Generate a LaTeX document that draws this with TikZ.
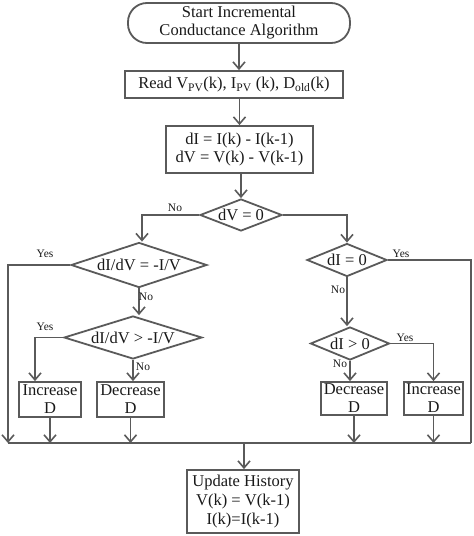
\documentclass[tikz,border=0pt]{standalone}
\usepackage{fontspec}
\setmainfont{Liberation Serif}
\usetikzlibrary{shapes.geometric,arrows.meta}
\definecolor{lc}{RGB}{90,90,90}
\definecolor{tc}{RGB}{25,25,25}
\begin{document}
\begin{tikzpicture}[x=1pt,y=-1pt,
  every node/.style={text=tc,font=\fontsize{16.5}{18}\selectfont},
  box/.style={draw=lc,line width=1.8pt,rectangle,inner sep=1pt,align=center},
  term/.style={box,rounded corners=19pt},
  dec/.style={draw=lc,line width=1.8pt,diamond,inner sep=0pt,aspect=2.8},
  lbl/.style={font=\fontsize{11.5}{12}\selectfont,inner sep=0pt},
  conn/.style={draw=lc,line width=1.8pt},
  arr/.style={conn,-{Straight Barb[length=7pt,width=12pt,line width=1.6pt]}}]
\useasboundingbox (0,0) rectangle (474,536);
% nodes
\node[term,minimum width=222pt,minimum height=40pt] (start) at (239,23) {Start Incremental\\Conductance Algorithm};
\node[box,minimum width=218pt,minimum height=27pt] (read) at (234,84.5) {Read V\textsubscript{PV}(k), I\textsubscript{PV} (k), D\textsubscript{old}(k)};
\node[box,minimum width=147pt,minimum height=47pt] (calc) at (239.5,149.5) {dI = I(k) - I(k-1)\\dV = V(k) - V(k-1)};
\node[dec,minimum width=82pt,minimum height=32pt] (dv0) at (241,215) {dV = 0};
\node[dec,minimum width=136pt,minimum height=45pt] (c1) at (139,265) {dI/dV = -I/V};
\node[dec,minimum width=138pt,minimum height=43pt] (c2) at (133,337.5) {dI/dV > -I/V};
\node[dec,minimum width=80pt,minimum height=33pt] (di0) at (347,260) {dI = 0};
\node[dec,minimum width=79pt,minimum height=33pt] (dig) at (350,343.5) {dI > 0};
\node[box,minimum width=62pt,minimum height=35pt] (inc1) at (50,399.5) {Increase\\D};
\node[box,minimum width=67pt,minimum height=35pt] (dec1) at (130.5,399.5) {Decrease\\D};
\node[box,minimum width=66pt,minimum height=33pt] (dec2) at (354,398.5) {Decrease\\D};
\node[box,minimum width=59pt,minimum height=33pt] (inc2) at (433.5,398.5) {Increase\\D};
\node[box,minimum width=112pt,minimum height=63pt,font=\fontsize{16.5}{19}\selectfont] (upd) at (243,501.5) {Update History\\V(k) = V(k-1)\\I(k)=I(k-1)};
% bus coordinates
\coordinate (busL) at (8,443);
\coordinate (busR) at (471,443);
\coordinate (busM) at (244,443);
\coordinate (lJ) at (142,215);
\coordinate (yL) at (8,265);
\coordinate (yL2) at (35,337.5);
\coordinate (yR) at (471,260);
% connectors
\draw[arr] (start.south) -- (start.south |- read.north);
\draw[arr] (calc.north |- read.south) -- (calc.north);
\draw[arr] (calc.south) -- (calc.south -| dv0.north) -- (dv0.north);
\draw[arr] (dv0.west) -- (lJ) -- (lJ |- c1.north);
\draw[arr] (dv0.east) -| (di0.north);
\draw[arr] (c1.south) -- (c1.south |- c2.north);
\draw[arr] (c1.west) -- (yL) -- (busL);
\draw[arr] (c2.west) -- (yL2) -- (yL2 |- inc1.north);
\draw[arr] (c2.south) -- (c2.south |- dec1.north);
\draw[arr] (di0.south) -- (di0.south |- dig.north);
\draw[conn] (di0.east) -- (yR) -- (busR);
\draw[arr] (dig.east) -| (inc2.north);
\draw[arr] (dig.south) -- (dig.south |- dec2.north);
\draw[arr] (inc1.south) -- (inc1.south |- busL);
\draw[arr] (dec1.south) -- (dec1.south |- busL);
\draw[arr] (dec2.south) -- (dec2.south |- busL);
\draw[arr] (inc2.south) -- (inc2.south |- busL);
\draw[conn] (busL) -- (busR);
\draw[arr] (busM) -- (busM |- upd.north);
% labels
\node[lbl] (nA) at (175,208) {No};
\node[lbl] (yA) at (45,254) {Yes};
\node[lbl] (nB) at (146,297) {No};
\node[lbl] (yB) at (45,327) {Yes};
\node[lbl] (nC) at (143,367) {No};
\node[lbl] (yC) at (401,254) {Yes};
\node[lbl] (nD) at (338,290) {No};
\node[lbl] (yD) at (405,338) {Yes};
\node[lbl] (nE) at (340,364) {No};
\end{tikzpicture}
\end{document}
